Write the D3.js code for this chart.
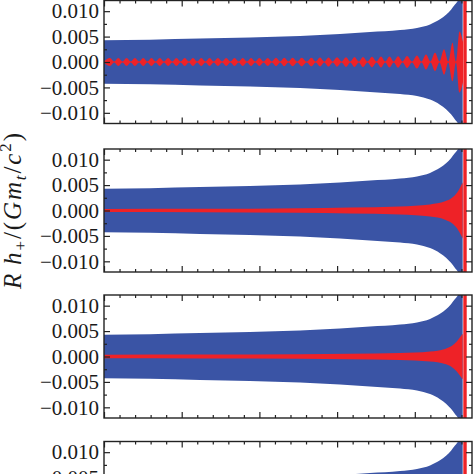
<!DOCTYPE html>
<html><head><meta charset="utf-8">
<script src="https://cdn.jsdelivr.net/npm/d3@7"></script>
<style>body{margin:0;background:#fff}svg{display:block}</style>
</head><body>
<svg id="c" width="474" height="474"></svg>
<script>
// ---------- data ----------
const xMajor = [0, 1, 2, 3, 4];
const xMinor = [0.2,0.4,0.6,0.8,1.2,1.4,1.6,1.8,2.2,2.4,2.6,2.8,3.2,3.4,3.6,3.8,4.2,4.4,4.6];
const yMajor = [-0.010, -0.005, 0.000, 0.005, 0.010];
const yMinor = [-0.0075, -0.0025, 0.0025, 0.0075];

// blue (full signal) envelope
const envX    = [0, 0.592, 1.236, 1.879, 2.523, 3.037, 3.423, 3.810, 4.028, 4.196, 4.324, 4.402, 4.466, 4.517, 4.556, 4.595, 4.616];
const blueAmp = [0.0043, 0.0044, 0.0046, 0.0048, 0.0051, 0.0055, 0.0059, 0.0063, 0.0067, 0.0074, 0.0084, 0.0093, 0.0103, 0.0113, 0.0121, 0.0135, 0.0160];

// red envelopes for panels 2-4
const redX  = [0, 1.236, 2.523, 3.166, 3.810, 4.196, 4.389, 4.479, 4.543, 4.582, 4.616];
const red2  = [0.0003, 0.00033, 0.00045, 0.0006, 0.0008, 0.0012, 0.0018, 0.0025, 0.0035, 0.0045, 0.0055];
const red3  = [0.00035, 0.00038, 0.00045, 0.00055, 0.0007, 0.0010, 0.0015, 0.0021, 0.0030, 0.0038, 0.0045];
const red4  = [0.00035, 0.00038, 0.00045, 0.00055, 0.0007, 0.0010, 0.0015, 0.0021, 0.0030, 0.0038, 0.0045];

// panel 1: beating red signal (lobe centres and lobe amplitudes)
const beadX = [0.077,0.184,0.291,0.398,0.505,0.611,0.718,0.825,0.932,1.039,1.145,1.252,1.359,1.466,1.573,1.680,1.786,1.893,2.000,2.107,2.214,2.320,2.427,2.545,2.670,2.780,2.889,2.999,3.115,3.224,3.333,3.449,3.565,3.674,3.784,3.900,4.028,4.144,4.260,4.376,4.485,4.575];
const beadA = [0.0008,0.0008,0.0008,0.0008,0.0008,0.0008,0.0008,0.0008,0.0008,0.0008,0.0008,0.0008,0.0008,0.0008,0.0008,0.0008,0.0008,0.0008,0.0008,0.0008,0.00082,0.00083,0.00084,0.00085,0.00086,0.00088,0.0009,0.00092,0.00095,0.00098,0.001,0.00104,0.00107,0.0011,0.00113,0.00116,0.0013,0.0015,0.0018,0.0025,0.0038,0.0060];
const beadNode = 0.0001;
const beadEnd = [4.62, 0.004];

const mergerBand = [4.624, 4.668];
const xDomain = [0, 4.736];
const yDomain = [-0.0121, 0.0121];

// ---------- layout ----------
const left = 104, right = 472, panelH = 123;
const panelTops = [0.5, 149, 295, 441.5];
const serif = "'Liberation Serif', 'Times New Roman', serif";

const svg = d3.select("#c");
const blue = "#3a54a5", red = "#ee2227", axisCol = "#222";

const x = d3.scaleLinear().domain(xDomain).range([left, right]);
const redSets = [null, red2, red3, red4];

panelTops.forEach((top, i) => {
  const y = d3.scaleLinear().domain(yDomain).range([top + panelH, top]);
  const g = svg.append("g");
  const cid = "clip" + i;
  svg.append("clipPath").attr("id", cid).append("rect")
    .attr("x", left).attr("y", top).attr("width", right - left).attr("height", panelH);
  const pg = g.append("g").attr("clip-path", `url(#${cid})`);

  const env = envX.map((v, k) => [v, blueAmp[k]]);
  pg.append("path").datum(env)
    .attr("d", d3.area().x(d => x(d[0])).y0(d => y(-d[1])).y1(d => y(d[1])).curve(d3.curveMonotoneX))
    .attr("fill", blue);

  let redPts;
  if (i === 0) {
    redPts = [[0, beadNode]];
    beadX.forEach((c, k) => {
      redPts.push([c, beadA[k]]);
      if (k < beadX.length - 1) redPts.push([(c + beadX[k + 1]) / 2, beadNode]);
    });
    redPts.push(beadEnd);
  } else {
    redPts = redX.map((v, k) => [v, redSets[i][k]]);
  }
  pg.append("path").datum(redPts)
    .attr("d", d3.area().x(d => x(d[0])).y0(d => y(-d[1])).y1(d => y(d[1])).curve(d3.curveMonotoneX))
    .attr("fill", red);

  pg.append("rect").attr("x", x(mergerBand[0])).attr("width", x(mergerBand[1]) - x(mergerBand[0]))
    .attr("y", top).attr("height", panelH).attr("fill", red);

  const ax = g.append("g").attr("color", axisCol);
  const tickStyle = s => { s.select(".domain").remove(); s.selectAll("line").attr("stroke-width", 1.2); };

  ax.append("g").attr("transform", `translate(${left},0)`)
    .call(d3.axisLeft(y).tickValues(yMajor).tickSize(-6).tickPadding(5).tickFormat(d3.format(".3f")))
    .call(tickStyle)
    .call(s => s.attr("font-family", serif).attr("font-size", 21))
    .call(s => s.selectAll("text").attr("fill", "#1a1a1a").attr("font-family", serif).attr("font-size", 21));
  ax.append("g").attr("transform", `translate(${left},0)`)
    .call(d3.axisLeft(y).tickValues(yMinor).tickSize(-3).tickFormat("")).call(tickStyle);
  ax.append("g").attr("transform", `translate(${right},0)`)
    .call(d3.axisRight(y).tickValues(yMajor).tickSize(-6).tickFormat("")).call(tickStyle);
  ax.append("g").attr("transform", `translate(${right},0)`)
    .call(d3.axisRight(y).tickValues(yMinor).tickSize(-3).tickFormat("")).call(tickStyle);

  ax.append("g").attr("transform", `translate(0,${top + panelH})`)
    .call(d3.axisBottom(x).tickValues(xMajor).tickSize(-6).tickFormat("")).call(tickStyle);
  ax.append("g").attr("transform", `translate(0,${top + panelH})`)
    .call(d3.axisBottom(x).tickValues(xMinor).tickSize(-3).tickFormat("")).call(tickStyle);
  ax.append("g").attr("transform", `translate(0,${top})`)
    .call(d3.axisTop(x).tickValues(xMajor).tickSize(-6).tickFormat("")).call(tickStyle);
  ax.append("g").attr("transform", `translate(0,${top})`)
    .call(d3.axisTop(x).tickValues(xMinor).tickSize(-3).tickFormat("")).call(tickStyle);

  g.append("rect").attr("x", left).attr("y", top).attr("width", right - left).attr("height", panelH)
    .attr("fill", "none").attr("stroke", axisCol).attr("stroke-width", 1.4);
});

// y-axis title
const t = svg.append("text")
  .attr("transform", "translate(20.5,211) rotate(-90)")
  .attr("text-anchor", "middle")
  .attr("fill", "#1a1a1a")
  .attr("font-family", serif)
  .attr("font-size", 25)
  .attr("textLength", 156)
  .attr("lengthAdjust", "spacing");
t.append("tspan").attr("font-style", "italic").text("R\u2009h");
t.append("tspan").attr("dy", 5).attr("font-size", 17).text("+");
t.append("tspan").attr("dy", -5).text("/(");
t.append("tspan").attr("font-style", "italic").text("Gm");
t.append("tspan").attr("dy", 5).attr("font-size", 17).attr("font-style", "italic").text("t");
t.append("tspan").attr("dy", -5).text("/");
t.append("tspan").attr("font-style", "italic").text("c");
t.append("tspan").attr("dy", -10).attr("font-size", 17).text("2");
t.append("tspan").attr("dy", 10).text(")");
</script>
</body></html>
